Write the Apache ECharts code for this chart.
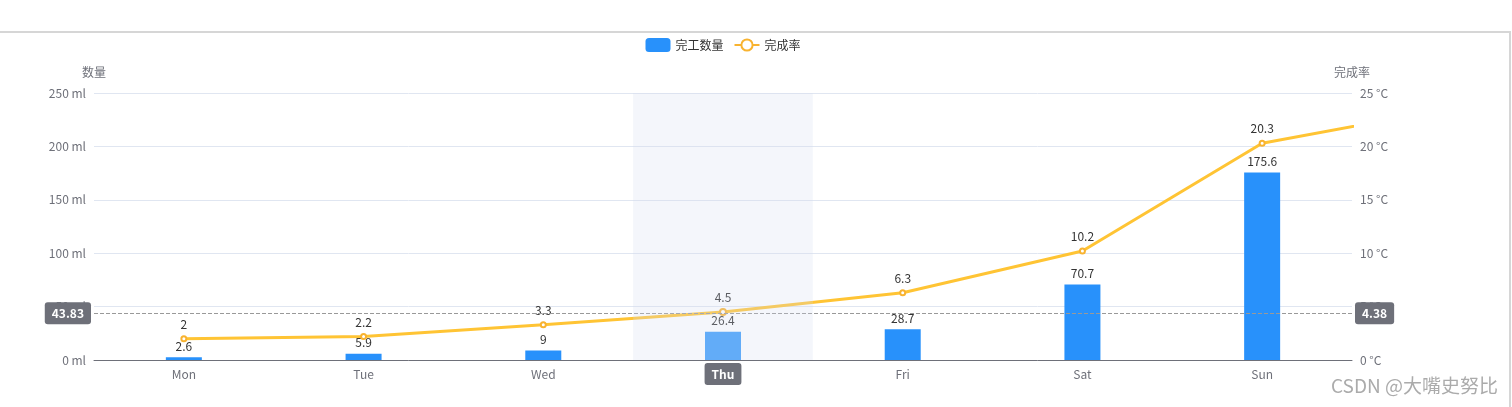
<!DOCTYPE html>
<html>
<head>
<meta charset="utf-8">
<script src="https://cdn.jsdelivr.net/npm/echarts@6/dist/echarts.min.js"></script>
<style>
html,body{margin:0;padding:0;background:#fff;}
#frame{position:absolute;left:0;top:31px;width:1509px;height:376px;border-top:2px solid #d6d6d6;border-right:2px solid #d6d6d6;}
#main{position:absolute;left:0;top:0;width:1446px;height:374px;}
#mark{position:absolute;right:14px;bottom:9px;font-family:"Noto Sans CJK SC",sans-serif;font-size:19px;color:#ababab;}
</style>
</head>
<body>
<div id="frame"><div id="main"></div></div>
<div id="mark">CSDN @大嘴史努比</div>
<script>
// 分类和数据
var days = ['Mon', 'Tue', 'Wed', 'Thu', 'Fri', 'Sat', 'Sun'];
var counts = [2.6, 5.9, 9.0, 26.4, 28.7, 70.7, 175.6];
var rates = [2.0, 2.2, 3.3, 4.5, 6.3, 10.2, 20.3, 23.4];
var countTicks = [0, 50, 100, 150, 200, 250];
var rateTicks = [0, 5, 10, 15, 20, 25];

var myChart = echarts.init(document.getElementById('main'));
var font = '"Microsoft YaHei","Noto Sans CJK SC",sans-serif';
var option = {
	textStyle: {fontFamily: font},
	legend: {
		top: 0,
		itemWidth: 25,
		itemHeight: 14,
		itemGap: 10,
		textStyle: {color: '#333', fontSize: 12},
		data: ['完工数量', '完成率']
	},
	grid: {left: 94, right: 94, top: 60, bottom: 47},
	xAxis: [
		{
			type: 'category',
			data: days,
			axisLine: {lineStyle: {color: '#6e7079'}},
			axisLabel: {color: '#6e7079', fontSize: 12},
			axisPointer: {
				show: true,
				type: 'shadow',
				status: 'show',
				value: 'Thu',
				shadowStyle: {color: 'rgba(210,219,238,0.25)'},
				label: {show: true, backgroundColor: '#6e7079', fontWeight: 'bold'}
			}
		}
	],
	yAxis: [
		{
			type: 'value',
			name: '数量',
			min: countTicks[0],
			max: countTicks[countTicks.length - 1],
			interval: countTicks[1] - countTicks[0],
			nameTextStyle: {color: '#6e7079'},
			axisLabel: {formatter: '{value} ml', color: '#6e7079'},
			splitLine: {lineStyle: {color: '#e0e6f1'}},
			axisPointer: {
				show: true,
				type: 'line',
				status: 'show',
				value: 43.83,
				lineStyle: {color: '#999', type: 'dashed'},
				label: {show: true, backgroundColor: '#6e7079', fontWeight: 'bold', formatter: function (p) { return p.value.toFixed(2); }}
			}
		},
		{
			type: 'value',
			name: '完成率',
			min: rateTicks[0],
			max: rateTicks[rateTicks.length - 1],
			interval: rateTicks[1] - rateTicks[0],
			nameTextStyle: {color: '#6e7079'},
			axisLabel: {formatter: '{value} °C', color: '#6e7079'},
			splitLine: {show: false},
			axisPointer: {
				show: true,
				type: 'line',
				status: 'show',
				value: 4.383,
				lineStyle: {color: '#999', type: 'dashed'},
				label: {show: true, backgroundColor: '#6e7079', fontWeight: 'bold', formatter: function (p) { return p.value.toFixed(2); }}
			}
		}
	],
	series: [
		{
			name: '完工数量',
			type: 'bar',
			barWidth: 36,
			itemStyle: {color: '#2891fb'},
			emphasis: {itemStyle: {color: '#3d9cfb'}},
			label: {show: true, position: 'top', color: '#333', fontSize: 12},
			data: counts
		},
		{
			name: '完成率',
			type: 'line',
			yAxisIndex: 1,
			symbol: 'emptyCircle',
			symbolSize: 5,
			itemStyle: {color: '#f8b330'},
			lineStyle: {width: 3, color: '#f8b330'},
			label: {show: true, position: 'top', color: '#333', fontSize: 12},
			data: rates
		}
	]
};
myChart.setOption(option);
myChart.dispatchAction({type: 'highlight', seriesIndex: 0, dataIndex: 3});
myChart.dispatchAction({type: 'highlight', seriesIndex: 1, dataIndex: 3});
</script>
</body>
</html>
